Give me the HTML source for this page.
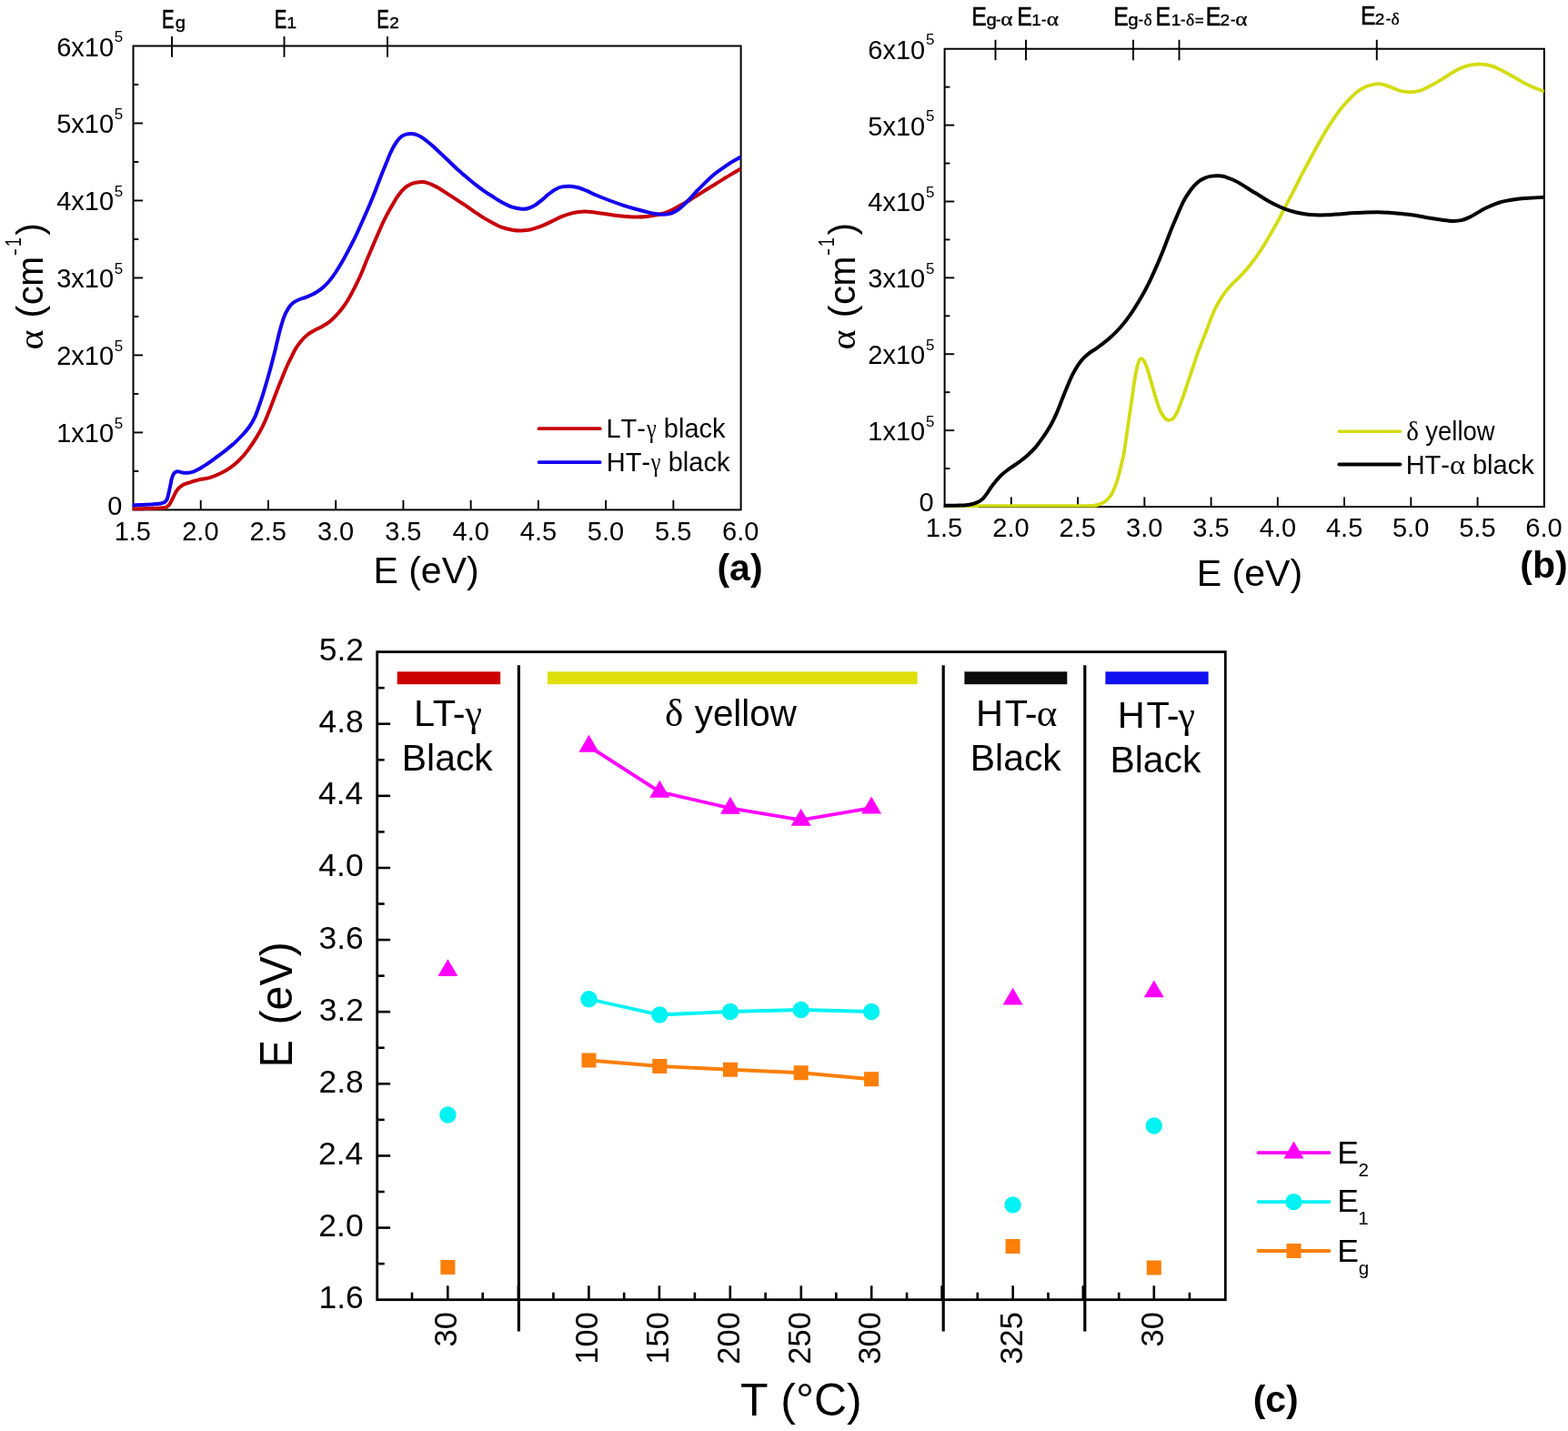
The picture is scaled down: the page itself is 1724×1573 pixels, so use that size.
<!DOCTYPE html>
<html lang="en">
<head>
<meta charset="utf-8">
<title>Absorption coefficient and critical point energies</title>
<style>
html,body{margin:0;padding:0;background:#fff;}
body{width:1724px;height:1573px;overflow:hidden;}
svg{display:block;}
text{fill:#000;white-space:pre;font-kerning:none;}
</style>
</head>
<body>
<svg width="1724" height="1573" viewBox="0 0 1724 1573">
<rect x="0" y="0" width="1724" height="1573" fill="#ffffff"/>
<g id="panel-a">
<rect x="146.5" y="50.5" width="668.1" height="509.9" fill="none" stroke="#000" stroke-width="2.0"/>
<line x1="146.50" y1="517.91" x2="152.30" y2="517.91" stroke="#000" stroke-width="1.9" stroke-linecap="butt"/>
<line x1="146.50" y1="475.42" x2="157.10" y2="475.42" stroke="#000" stroke-width="1.9" stroke-linecap="butt"/>
<line x1="146.50" y1="432.92" x2="152.30" y2="432.92" stroke="#000" stroke-width="1.9" stroke-linecap="butt"/>
<line x1="146.50" y1="390.43" x2="157.10" y2="390.43" stroke="#000" stroke-width="1.9" stroke-linecap="butt"/>
<line x1="146.50" y1="347.94" x2="152.30" y2="347.94" stroke="#000" stroke-width="1.9" stroke-linecap="butt"/>
<line x1="146.50" y1="305.45" x2="157.10" y2="305.45" stroke="#000" stroke-width="1.9" stroke-linecap="butt"/>
<line x1="146.50" y1="262.96" x2="152.30" y2="262.96" stroke="#000" stroke-width="1.9" stroke-linecap="butt"/>
<line x1="146.50" y1="220.47" x2="157.10" y2="220.47" stroke="#000" stroke-width="1.9" stroke-linecap="butt"/>
<line x1="146.50" y1="177.97" x2="152.30" y2="177.97" stroke="#000" stroke-width="1.9" stroke-linecap="butt"/>
<line x1="146.50" y1="135.48" x2="157.10" y2="135.48" stroke="#000" stroke-width="1.9" stroke-linecap="butt"/>
<line x1="146.50" y1="92.99" x2="152.30" y2="92.99" stroke="#000" stroke-width="1.9" stroke-linecap="butt"/>
<line x1="220.73" y1="560.40" x2="220.73" y2="549.80" stroke="#000" stroke-width="1.9" stroke-linecap="butt"/>
<line x1="294.97" y1="560.40" x2="294.97" y2="549.80" stroke="#000" stroke-width="1.9" stroke-linecap="butt"/>
<line x1="369.20" y1="560.40" x2="369.20" y2="549.80" stroke="#000" stroke-width="1.9" stroke-linecap="butt"/>
<line x1="443.43" y1="560.40" x2="443.43" y2="549.80" stroke="#000" stroke-width="1.9" stroke-linecap="butt"/>
<line x1="517.67" y1="560.40" x2="517.67" y2="549.80" stroke="#000" stroke-width="1.9" stroke-linecap="butt"/>
<line x1="591.90" y1="560.40" x2="591.90" y2="549.80" stroke="#000" stroke-width="1.9" stroke-linecap="butt"/>
<line x1="666.13" y1="560.40" x2="666.13" y2="549.80" stroke="#000" stroke-width="1.9" stroke-linecap="butt"/>
<line x1="740.37" y1="560.40" x2="740.37" y2="549.80" stroke="#000" stroke-width="1.9" stroke-linecap="butt"/>
<line x1="189.00" y1="40.00" x2="189.00" y2="62.80" stroke="#000" stroke-width="1.9" stroke-linecap="butt"/>
<line x1="312.50" y1="40.00" x2="312.50" y2="62.80" stroke="#000" stroke-width="1.9" stroke-linecap="butt"/>
<line x1="426.00" y1="40.00" x2="426.00" y2="62.80" stroke="#000" stroke-width="1.9" stroke-linecap="butt"/>
<text transform="translate(134.60,471.02)" x="-8.74" y="0" font-family='"Liberation Sans", sans-serif' font-size="17">5</text>
<text transform="translate(123.90,486.42)" x="-61.75" y="0" font-family='"Liberation Sans", sans-serif' font-size="29">1x10</text>
<text transform="translate(134.60,386.03)" x="-8.74" y="0" font-family='"Liberation Sans", sans-serif' font-size="17">5</text>
<text transform="translate(123.90,401.43)" x="-61.75" y="0" font-family='"Liberation Sans", sans-serif' font-size="29">2x10</text>
<text transform="translate(134.60,301.05)" x="-8.74" y="0" font-family='"Liberation Sans", sans-serif' font-size="17">5</text>
<text transform="translate(123.90,316.45)" x="-61.75" y="0" font-family='"Liberation Sans", sans-serif' font-size="29">3x10</text>
<text transform="translate(134.60,216.07)" x="-8.74" y="0" font-family='"Liberation Sans", sans-serif' font-size="17">5</text>
<text transform="translate(123.90,231.47)" x="-61.75" y="0" font-family='"Liberation Sans", sans-serif' font-size="29">4x10</text>
<text transform="translate(134.60,131.08)" x="-8.74" y="0" font-family='"Liberation Sans", sans-serif' font-size="17">5</text>
<text transform="translate(123.90,146.48)" x="-61.75" y="0" font-family='"Liberation Sans", sans-serif' font-size="29">5x10</text>
<text transform="translate(134.60,46.10)" x="-8.74" y="0" font-family='"Liberation Sans", sans-serif' font-size="17">5</text>
<text transform="translate(123.90,61.50)" x="-61.75" y="0" font-family='"Liberation Sans", sans-serif' font-size="29">6x10</text>
<text transform="translate(133.30,565.60)" x="-15.00" y="0" font-family='"Liberation Sans", sans-serif' font-size="29">0</text>
<text transform="translate(146.30,593.60)" x="-20.65" y="0" font-family='"Liberation Sans", sans-serif' font-size="29">1.5</text>
<text transform="translate(220.53,593.60)" x="-20.32" y="0" font-family='"Liberation Sans", sans-serif' font-size="29">2.0</text>
<text transform="translate(294.77,593.60)" x="-20.28" y="0" font-family='"Liberation Sans", sans-serif' font-size="29">2.5</text>
<text transform="translate(369.00,593.60)" x="-20.14" y="0" font-family='"Liberation Sans", sans-serif' font-size="29">3.0</text>
<text transform="translate(443.23,593.60)" x="-20.10" y="0" font-family='"Liberation Sans", sans-serif' font-size="29">3.5</text>
<text transform="translate(517.47,593.60)" x="-19.92" y="0" font-family='"Liberation Sans", sans-serif' font-size="29">4.0</text>
<text transform="translate(591.70,593.60)" x="-19.88" y="0" font-family='"Liberation Sans", sans-serif' font-size="29">4.5</text>
<text transform="translate(665.93,593.60)" x="-20.17" y="0" font-family='"Liberation Sans", sans-serif' font-size="29">5.0</text>
<text transform="translate(740.17,593.60)" x="-20.13" y="0" font-family='"Liberation Sans", sans-serif' font-size="29">5.5</text>
<text transform="translate(814.40,593.60)" x="-20.33" y="0" font-family='"Liberation Sans", sans-serif' font-size="29">6.0</text>
<clipPath id="clipA"><rect x="145.5" y="50.5" width="669.1" height="512"/></clipPath>
<g clip-path="url(#clipA)">
<path d="M145.6,559.3 C146.8,559.3 150.6,559.2 153.0,559.2 C155.4,559.2 157.8,559.1 160.3,559.0 C162.8,558.9 165.4,558.9 168.0,558.8 C170.6,558.7 173.8,558.6 175.6,558.5 C177.3,558.4 177.7,558.4 178.5,558.3 C179.3,558.2 180.1,558.1 180.7,558.0 C181.3,557.9 181.8,557.8 182.3,557.6 C182.8,557.4 183.2,557.3 183.7,557.0 C184.1,556.7 184.6,556.3 185.0,555.9 C185.4,555.5 185.9,554.9 186.3,554.4 C186.7,553.9 187.0,553.4 187.3,552.8 C187.6,552.2 188.0,551.5 188.3,550.9 C188.6,550.2 189.0,549.6 189.3,548.9 C189.7,548.2 190.1,547.5 190.4,546.8 C190.8,546.1 191.1,545.4 191.4,544.7 C191.7,544.0 192.1,543.3 192.4,542.7 C192.7,542.1 193.1,541.5 193.4,540.9 C193.7,540.3 194.0,539.8 194.4,539.2 C194.8,538.6 195.3,538.0 195.7,537.5 C196.1,537.0 196.5,536.5 197.0,536.1 C197.5,535.7 198.0,535.3 198.5,534.9 C199.0,534.5 199.4,534.1 200.0,533.8 C200.6,533.4 201.2,533.1 201.8,532.8 C202.4,532.5 202.9,532.3 203.6,532.0 C204.3,531.7 205.2,531.4 206.0,531.1 C206.8,530.8 207.8,530.6 208.7,530.3 C209.6,530.0 210.3,529.8 211.2,529.5 C212.0,529.2 212.8,529.0 213.8,528.7 C214.8,528.4 216.0,528.1 217.0,527.8 C218.0,527.5 218.7,527.3 220.0,527.0 C221.3,526.7 223.2,526.5 225.0,526.2 C226.8,525.9 227.6,526.2 230.5,525.2 C233.4,524.2 238.8,522.1 242.6,520.3 C246.4,518.5 249.6,516.7 253.1,514.2 C256.6,511.7 260.4,508.5 263.7,505.2 C267.0,501.9 269.7,498.6 272.7,494.6 C275.7,490.6 279.0,485.6 281.8,481.1 C284.6,476.6 286.8,472.8 289.3,467.5 C291.8,462.2 294.4,455.7 296.9,449.4 C299.4,443.1 302.1,435.6 304.4,429.8 C306.6,424.0 308.4,419.5 310.4,414.7 C312.4,409.9 314.5,404.7 316.2,401.0 C317.9,397.3 318.8,395.6 320.3,392.7 C321.8,389.8 323.2,386.3 325.0,383.4 C326.8,380.5 328.7,377.8 330.8,375.3 C332.9,372.8 335.2,370.3 337.7,368.3 C340.2,366.3 343.1,364.7 345.8,363.1 C348.5,361.6 351.3,360.6 354.0,359.0 C356.7,357.4 359.6,355.7 362.1,353.8 C364.6,351.9 366.7,349.8 369.0,347.4 C371.3,345.0 373.7,342.4 376.0,339.3 C378.3,336.2 380.7,332.8 383.0,328.9 C385.3,325.0 387.6,320.7 389.9,316.1 C392.2,311.5 394.6,306.8 396.9,301.5 C399.2,296.2 401.5,290.0 403.9,284.3 C406.3,278.6 408.9,272.7 411.2,267.3 C413.5,261.9 415.9,256.3 417.8,252.0 C419.7,247.7 421.1,244.6 422.6,241.5 C424.1,238.4 425.4,236.2 426.8,233.5 C428.2,230.8 429.7,228.4 431.3,225.6 C432.9,222.8 434.9,219.2 436.6,216.6 C438.4,214.0 440.1,211.7 441.8,209.8 C443.6,207.9 445.2,206.3 447.1,205.0 C449.0,203.7 450.9,202.6 452.9,201.8 C454.9,201.0 457.1,200.7 459.0,200.4 C460.9,200.1 462.5,200.0 464.4,200.1 C466.3,200.2 468.2,200.6 470.2,201.2 C472.2,201.8 474.2,202.7 476.2,203.6 C478.2,204.5 480.3,205.6 482.3,206.8 C484.3,208.0 486.4,209.3 488.4,210.6 C490.4,211.9 492.3,213.2 494.5,214.6 C496.7,216.0 499.1,217.6 501.5,219.2 C503.9,220.8 506.6,222.5 509.2,224.2 C511.8,225.9 514.3,227.7 516.8,229.4 C519.3,231.1 521.8,232.9 524.4,234.6 C527.0,236.3 529.5,238.0 532.1,239.6 C534.7,241.2 536.8,242.3 540.0,244.0 C543.2,245.7 547.3,248.1 551.2,249.6 C555.1,251.1 559.7,252.1 563.2,252.8 C566.7,253.5 569.3,253.6 572.3,253.6 C575.3,253.6 578.5,253.3 581.3,252.8 C584.1,252.3 586.2,251.6 589.0,250.7 C591.8,249.8 595.1,248.6 598.1,247.3 C601.1,246.0 604.1,244.6 607.1,243.1 C610.1,241.6 613.2,239.9 616.2,238.6 C619.2,237.3 622.2,236.2 625.2,235.3 C628.2,234.4 631.3,233.8 634.3,233.3 C637.3,232.9 640.3,232.6 643.3,232.6 C646.3,232.6 648.9,232.9 652.4,233.3 C655.9,233.7 660.5,234.5 664.5,235.1 C668.5,235.7 672.5,236.3 676.5,236.8 C680.5,237.3 684.6,237.7 688.6,238.0 C692.6,238.3 696.9,238.6 700.7,238.6 C704.5,238.6 707.7,238.5 711.2,238.1 C714.7,237.7 718.5,237.0 721.8,236.3 C725.1,235.6 727.8,235.1 730.8,234.1 C733.8,233.1 736.9,231.8 739.9,230.3 C742.9,228.8 745.9,227.0 748.9,225.3 C751.9,223.6 755.0,222.0 758.0,220.2 C761.0,218.4 764.0,216.4 767.0,214.5 C770.0,212.6 773.1,210.6 776.1,208.7 C779.1,206.8 782.1,205.0 785.1,203.2 C788.1,201.3 791.2,199.4 794.2,197.6 C797.2,195.8 799.8,194.1 803.2,192.1 C806.6,190.1 812.7,186.5 814.6,185.4" fill="none" stroke="#c6000a" stroke-width="4.0" stroke-linejoin="round" stroke-linecap="butt"/>
<path d="M145.6,555.2 C146.8,555.2 150.6,555.1 153.0,555.0 C155.4,554.9 158.1,554.8 160.3,554.7 C162.5,554.6 164.3,554.5 166.0,554.4 C167.7,554.3 169.2,554.1 170.5,554.0 C171.8,553.9 173.0,553.8 174.0,553.7 C175.0,553.6 175.8,553.5 176.6,553.4 C177.4,553.3 178.0,553.1 178.6,552.9 C179.2,552.7 179.7,552.6 180.2,552.4 C180.7,552.2 181.2,551.8 181.6,551.5 C182.0,551.2 182.4,550.8 182.7,550.4 C183.0,550.0 183.2,549.6 183.5,549.0 C183.8,548.4 184.1,547.6 184.3,546.8 C184.6,546.0 184.8,545.0 185.0,544.0 C185.2,543.0 185.6,541.8 185.8,540.7 C186.1,539.6 186.2,538.4 186.5,537.2 C186.8,536.0 187.1,534.8 187.3,533.6 C187.6,532.4 187.8,531.2 188.0,530.0 C188.2,528.8 188.5,527.4 188.8,526.4 C189.1,525.4 189.3,524.5 189.6,523.8 C189.9,523.0 190.1,522.5 190.4,521.9 C190.7,521.3 191.1,520.8 191.4,520.4 C191.7,520.0 192.0,519.6 192.4,519.3 C192.8,519.0 193.2,518.8 193.6,518.6 C194.0,518.4 194.5,518.3 194.9,518.3 C195.3,518.3 195.8,518.3 196.2,518.4 C196.6,518.5 197.0,518.5 197.5,518.6 C198.0,518.7 198.6,518.9 199.2,519.1 C199.8,519.3 200.4,519.5 201.0,519.6 C201.6,519.7 202.2,519.8 202.8,519.8 C203.4,519.8 204.0,519.8 204.6,519.8 C205.2,519.8 205.8,519.8 206.4,519.8 C207.0,519.8 207.6,519.7 208.2,519.6 C208.8,519.5 209.5,519.4 210.2,519.2 C210.9,519.0 211.5,518.8 212.2,518.6 C212.9,518.4 213.5,518.1 214.2,517.8 C214.9,517.5 215.6,517.2 216.3,516.8 C217.0,516.4 217.8,516.1 218.6,515.6 C219.4,515.1 219.4,515.2 221.4,514.0 C223.4,512.8 227.5,510.3 230.5,508.2 C233.5,506.1 236.5,503.7 239.5,501.4 C242.5,499.1 245.6,497.0 248.6,494.6 C251.6,492.2 254.6,489.9 257.6,487.1 C260.6,484.3 263.9,481.0 266.7,478.0 C269.5,475.0 271.9,472.3 274.2,469.0 C276.5,465.7 278.5,462.2 280.3,458.4 C282.1,454.6 283.3,450.7 284.8,446.4 C286.3,442.1 287.8,437.6 289.3,432.8 C290.8,428.0 292.3,422.9 293.8,417.7 C295.3,412.5 296.8,407.2 298.3,401.5 C299.8,395.8 301.3,389.7 302.9,383.4 C304.4,377.1 306.1,369.5 307.6,363.7 C309.2,357.9 310.7,352.7 312.2,348.6 C313.7,344.5 315.2,341.8 316.8,339.3 C318.4,336.8 319.6,335.1 321.5,333.5 C323.4,331.9 325.9,330.6 328.4,329.5 C330.9,328.4 333.9,327.7 336.6,326.6 C339.3,325.5 342.0,324.6 344.7,323.1 C347.4,321.7 350.1,320.0 352.8,317.9 C355.5,315.8 358.2,313.4 360.9,310.3 C363.6,307.2 366.3,303.6 369.0,299.5 C371.7,295.4 374.5,290.7 377.2,286.0 C379.9,281.3 382.4,276.4 385.0,271.5 C387.6,266.6 390.2,261.4 392.5,256.5 C394.8,251.6 396.8,246.9 399.0,242.0 C401.2,237.1 403.5,231.9 405.6,227.0 C407.7,222.1 409.8,216.9 411.6,212.5 C413.4,208.1 414.6,204.5 416.2,200.5 C417.8,196.5 419.4,192.2 420.9,188.5 C422.4,184.8 423.8,181.5 425.2,178.0 C426.6,174.5 428.1,170.7 429.5,167.6 C430.9,164.5 432.3,161.9 433.7,159.6 C435.1,157.2 436.5,155.2 437.9,153.5 C439.3,151.8 440.6,150.6 442.0,149.6 C443.4,148.6 444.9,148.0 446.6,147.6 C448.3,147.2 450.2,146.9 452.0,147.0 C453.8,147.1 455.4,147.3 457.3,147.9 C459.2,148.5 461.4,149.6 463.4,150.8 C465.4,152.0 467.5,153.6 469.5,155.2 C471.5,156.8 473.6,158.5 475.6,160.3 C477.6,162.1 479.7,164.1 481.7,166.0 C483.7,167.9 485.8,169.9 487.8,171.8 C489.8,173.7 491.6,175.3 493.9,177.5 C496.2,179.7 498.9,182.3 501.5,184.7 C504.1,187.0 506.6,189.4 509.2,191.6 C511.8,193.8 514.3,195.9 516.8,198.0 C519.3,200.1 521.8,202.2 524.4,204.2 C527.0,206.2 529.5,208.0 532.1,209.8 C534.7,211.6 536.8,213.0 540.0,215.0 C543.2,217.0 547.3,219.9 551.2,222.0 C555.1,224.1 559.4,226.4 563.2,227.7 C567.0,229.0 571.0,229.4 573.8,229.7 C576.6,229.9 577.7,229.8 580.0,229.2 C582.3,228.6 585.0,227.5 587.5,226.0 C590.0,224.5 592.6,222.4 595.1,220.4 C597.6,218.4 600.1,215.9 602.6,213.9 C605.1,211.9 607.7,209.8 610.2,208.4 C612.7,207.0 614.9,206.0 617.7,205.4 C620.5,204.8 623.8,204.6 626.8,204.7 C629.8,204.8 632.8,205.4 635.8,206.2 C638.8,207.0 641.6,208.2 644.9,209.6 C648.2,211.0 651.1,212.7 655.4,214.5 C659.7,216.3 665.5,218.6 670.5,220.5 C675.5,222.4 680.6,224.2 685.6,225.8 C690.6,227.4 695.7,228.9 700.7,230.3 C705.7,231.7 711.7,233.2 715.7,234.1 C719.7,235.0 722.0,235.3 724.8,235.6 C727.6,235.8 730.0,235.8 732.3,235.6 C734.6,235.4 736.4,235.1 738.4,234.4 C740.4,233.7 742.4,232.7 744.4,231.4 C746.4,230.1 748.1,228.6 750.4,226.5 C752.7,224.4 755.2,221.9 758.0,219.0 C760.8,216.1 764.0,212.3 767.0,209.2 C770.0,206.0 773.1,203.0 776.1,200.1 C779.1,197.2 782.1,194.3 785.1,191.8 C788.1,189.3 791.2,187.2 794.2,185.1 C797.2,183.0 799.8,181.1 803.2,179.0 C806.6,176.9 812.7,173.7 814.6,172.6" fill="none" stroke="#1400ee" stroke-width="4.0" stroke-linejoin="round" stroke-linecap="butt"/>
</g>
<line x1="592.50" y1="471.20" x2="659.80" y2="471.20" stroke="#c6000a" stroke-width="3.7" stroke-linecap="round"/>
<line x1="592.50" y1="508.10" x2="659.80" y2="508.10" stroke="#1400ee" stroke-width="3.7" stroke-linecap="round"/>
<text transform="translate(668.80,481.00)" x="-2.38" y="0" font-family='"Liberation Sans", sans-serif' font-size="29">LT-</text>
<text transform="translate(711.00,481.00) scale(0.8366,1)" x="0.04" y="0" font-family='"Liberation Serif", serif' font-size="29">γ</text>
<text transform="translate(731.70,481.00)" x="-1.87" y="0" font-family='"Liberation Sans", sans-serif' font-size="29">black</text>
<text transform="translate(669.10,517.60)" x="-2.38" y="0" font-family='"Liberation Sans", sans-serif' font-size="29">HT-</text>
<text transform="translate(715.80,517.60) scale(0.8366,1)" x="0.04" y="0" font-family='"Liberation Serif", serif' font-size="29">γ</text>
<text transform="translate(736.60,517.60)" x="-1.87" y="0" font-family='"Liberation Sans", sans-serif' font-size="29">black</text>
<text transform="translate(413.80,640.60)" x="-3.36" y="0" font-family='"Liberation Sans", sans-serif' font-size="41">E (eV)</text>
<text transform="translate(790.50,637.80)" x="-2.04" y="0" font-family='"Liberation Sans", sans-serif' font-size="41" font-weight="bold">(a)</text>
<text transform="translate(46.60,383.00) rotate(-90) scale(1.0874,1)" x="-1.47" y="0" font-family='"Liberation Serif", serif' font-size="38.5">α</text>
<text transform="translate(46.60,347.00) rotate(-90)" x="-2.54" y="0" font-family='"Liberation Sans", sans-serif' font-size="41">(</text>
<text transform="translate(46.60,333.40) rotate(-90) scale(1.0239,1)" x="-1.74" y="0" font-family='"Liberation Sans", sans-serif' font-size="41">c</text>
<text transform="translate(46.60,312.20) rotate(-90) scale(0.9607,1)" x="-2.72" y="0" font-family='"Liberation Sans", sans-serif' font-size="41">m</text>
<text transform="translate(23.20,280.20) rotate(-90)" x="-1.07" y="0" font-family='"Liberation Sans", sans-serif' font-size="24">-</text>
<text transform="translate(23.20,266.00) rotate(-90) scale(0.8000,1)" x="-6.71" y="0" font-family='"Liberation Sans", sans-serif' font-size="23">1</text>
<text transform="translate(46.60,258.50) rotate(-90)" x="-0.24" y="0" font-family='"Liberation Sans", sans-serif' font-size="41">)</text>
<text transform="translate(179.70,31.10) scale(0.6800,1)" x="-2.46" y="0" font-family='"Liberation Sans", sans-serif' font-size="30.0" stroke="#000" stroke-width="0.6">E</text>
<text transform="translate(193.50,31.30) scale(1.1000,1)" x="-0.78" y="0" font-family='"Liberation Sans", sans-serif' font-size="18.5" stroke="#000" stroke-width="0.35">g</text>
<text transform="translate(303.30,31.10) scale(0.6800,1)" x="-2.46" y="0" font-family='"Liberation Sans", sans-serif' font-size="30.0" stroke="#000" stroke-width="0.6">E</text>
<text transform="translate(316.60,31.30) scale(1.1500,1)" x="-1.29" y="0" font-family='"Liberation Sans", sans-serif' font-size="17" stroke="#000" stroke-width="0.35">1</text>
<text transform="translate(415.90,31.10) scale(0.6800,1)" x="-2.46" y="0" font-family='"Liberation Sans", sans-serif' font-size="30.0" stroke="#000" stroke-width="0.6">E</text>
<text transform="translate(429.20,31.30) scale(1.1200,1)" x="-0.85" y="0" font-family='"Liberation Sans", sans-serif' font-size="17" stroke="#000" stroke-width="0.35">2</text>
</g>
<g id="panel-b">
<rect x="1038.6" y="53.7" width="659.2" height="503.3" fill="none" stroke="#000" stroke-width="2.0"/>
<line x1="1038.60" y1="515.06" x2="1044.40" y2="515.06" stroke="#000" stroke-width="1.9" stroke-linecap="butt"/>
<line x1="1038.60" y1="473.12" x2="1049.20" y2="473.12" stroke="#000" stroke-width="1.9" stroke-linecap="butt"/>
<line x1="1038.60" y1="431.18" x2="1044.40" y2="431.18" stroke="#000" stroke-width="1.9" stroke-linecap="butt"/>
<line x1="1038.60" y1="389.23" x2="1049.20" y2="389.23" stroke="#000" stroke-width="1.9" stroke-linecap="butt"/>
<line x1="1038.60" y1="347.29" x2="1044.40" y2="347.29" stroke="#000" stroke-width="1.9" stroke-linecap="butt"/>
<line x1="1038.60" y1="305.35" x2="1049.20" y2="305.35" stroke="#000" stroke-width="1.9" stroke-linecap="butt"/>
<line x1="1038.60" y1="263.41" x2="1044.40" y2="263.41" stroke="#000" stroke-width="1.9" stroke-linecap="butt"/>
<line x1="1038.60" y1="221.47" x2="1049.20" y2="221.47" stroke="#000" stroke-width="1.9" stroke-linecap="butt"/>
<line x1="1038.60" y1="179.52" x2="1044.40" y2="179.52" stroke="#000" stroke-width="1.9" stroke-linecap="butt"/>
<line x1="1038.60" y1="137.58" x2="1049.20" y2="137.58" stroke="#000" stroke-width="1.9" stroke-linecap="butt"/>
<line x1="1038.60" y1="95.64" x2="1044.40" y2="95.64" stroke="#000" stroke-width="1.9" stroke-linecap="butt"/>
<line x1="1111.84" y1="557.00" x2="1111.84" y2="546.40" stroke="#000" stroke-width="1.9" stroke-linecap="butt"/>
<line x1="1185.09" y1="557.00" x2="1185.09" y2="546.40" stroke="#000" stroke-width="1.9" stroke-linecap="butt"/>
<line x1="1258.33" y1="557.00" x2="1258.33" y2="546.40" stroke="#000" stroke-width="1.9" stroke-linecap="butt"/>
<line x1="1331.58" y1="557.00" x2="1331.58" y2="546.40" stroke="#000" stroke-width="1.9" stroke-linecap="butt"/>
<line x1="1404.82" y1="557.00" x2="1404.82" y2="546.40" stroke="#000" stroke-width="1.9" stroke-linecap="butt"/>
<line x1="1478.07" y1="557.00" x2="1478.07" y2="546.40" stroke="#000" stroke-width="1.9" stroke-linecap="butt"/>
<line x1="1551.31" y1="557.00" x2="1551.31" y2="546.40" stroke="#000" stroke-width="1.9" stroke-linecap="butt"/>
<line x1="1624.56" y1="557.00" x2="1624.56" y2="546.40" stroke="#000" stroke-width="1.9" stroke-linecap="butt"/>
<line x1="1094.50" y1="43.75" x2="1094.50" y2="66.25" stroke="#000" stroke-width="1.9" stroke-linecap="butt"/>
<line x1="1128.00" y1="43.75" x2="1128.00" y2="66.25" stroke="#000" stroke-width="1.9" stroke-linecap="butt"/>
<line x1="1246.00" y1="43.75" x2="1246.00" y2="66.25" stroke="#000" stroke-width="1.9" stroke-linecap="butt"/>
<line x1="1296.50" y1="43.75" x2="1296.50" y2="66.25" stroke="#000" stroke-width="1.9" stroke-linecap="butt"/>
<line x1="1513.75" y1="43.75" x2="1513.75" y2="66.25" stroke="#000" stroke-width="1.9" stroke-linecap="butt"/>
<text transform="translate(1026.70,468.72)" x="-8.74" y="0" font-family='"Liberation Sans", sans-serif' font-size="17">5</text>
<text transform="translate(1016.00,484.12)" x="-61.75" y="0" font-family='"Liberation Sans", sans-serif' font-size="29">1x10</text>
<text transform="translate(1026.70,384.83)" x="-8.74" y="0" font-family='"Liberation Sans", sans-serif' font-size="17">5</text>
<text transform="translate(1016.00,400.23)" x="-61.75" y="0" font-family='"Liberation Sans", sans-serif' font-size="29">2x10</text>
<text transform="translate(1026.70,300.95)" x="-8.74" y="0" font-family='"Liberation Sans", sans-serif' font-size="17">5</text>
<text transform="translate(1016.00,316.35)" x="-61.75" y="0" font-family='"Liberation Sans", sans-serif' font-size="29">3x10</text>
<text transform="translate(1026.70,217.07)" x="-8.74" y="0" font-family='"Liberation Sans", sans-serif' font-size="17">5</text>
<text transform="translate(1016.00,232.47)" x="-61.75" y="0" font-family='"Liberation Sans", sans-serif' font-size="29">4x10</text>
<text transform="translate(1026.70,133.18)" x="-8.74" y="0" font-family='"Liberation Sans", sans-serif' font-size="17">5</text>
<text transform="translate(1016.00,148.58)" x="-61.75" y="0" font-family='"Liberation Sans", sans-serif' font-size="29">5x10</text>
<text transform="translate(1026.70,49.30)" x="-8.74" y="0" font-family='"Liberation Sans", sans-serif' font-size="17">5</text>
<text transform="translate(1016.00,64.70)" x="-61.75" y="0" font-family='"Liberation Sans", sans-serif' font-size="29">6x10</text>
<text transform="translate(1025.60,562.20)" x="-15.00" y="0" font-family='"Liberation Sans", sans-serif' font-size="29">0</text>
<text transform="translate(1038.40,590.20)" x="-20.65" y="0" font-family='"Liberation Sans", sans-serif' font-size="29">1.5</text>
<text transform="translate(1111.64,590.20)" x="-20.32" y="0" font-family='"Liberation Sans", sans-serif' font-size="29">2.0</text>
<text transform="translate(1184.89,590.20)" x="-20.28" y="0" font-family='"Liberation Sans", sans-serif' font-size="29">2.5</text>
<text transform="translate(1258.13,590.20)" x="-20.14" y="0" font-family='"Liberation Sans", sans-serif' font-size="29">3.0</text>
<text transform="translate(1331.38,590.20)" x="-20.10" y="0" font-family='"Liberation Sans", sans-serif' font-size="29">3.5</text>
<text transform="translate(1404.62,590.20)" x="-19.92" y="0" font-family='"Liberation Sans", sans-serif' font-size="29">4.0</text>
<text transform="translate(1477.87,590.20)" x="-19.88" y="0" font-family='"Liberation Sans", sans-serif' font-size="29">4.5</text>
<text transform="translate(1551.11,590.20)" x="-20.17" y="0" font-family='"Liberation Sans", sans-serif' font-size="29">5.0</text>
<text transform="translate(1624.36,590.20)" x="-20.13" y="0" font-family='"Liberation Sans", sans-serif' font-size="29">5.5</text>
<text transform="translate(1697.60,590.20)" x="-20.33" y="0" font-family='"Liberation Sans", sans-serif' font-size="29">6.0</text>
<clipPath id="clipB"><rect x="1037.6" y="53.7" width="660.2" height="506"/></clipPath>
<g clip-path="url(#clipB)">
<path d="M1038.6,556.2 L1190.0,556.2 C1191.0,556.2 1194.2,556.2 1196.0,556.2 C1197.8,556.2 1199.3,556.1 1200.5,556.0 C1201.7,555.9 1202.2,555.8 1203.0,555.7 C1203.8,555.6 1204.7,555.4 1205.6,555.2 C1206.5,555.0 1207.3,554.9 1208.2,554.6 C1209.1,554.4 1209.9,554.0 1210.7,553.7 C1211.5,553.4 1212.1,553.1 1212.8,552.7 C1213.5,552.3 1214.2,551.9 1214.8,551.4 C1215.4,550.9 1216.0,550.5 1216.6,550.0 C1217.2,549.5 1217.8,548.9 1218.3,548.3 C1218.8,547.7 1219.4,547.1 1219.9,546.4 C1220.4,545.7 1220.9,545.0 1221.4,544.3 C1221.9,543.6 1222.3,542.9 1222.7,542.1 C1223.1,541.3 1223.4,540.9 1223.9,539.7 C1224.4,538.5 1225.2,536.8 1225.9,535.1 C1226.6,533.4 1227.3,531.6 1228.0,529.5 C1228.7,527.4 1229.3,524.9 1230.0,522.4 C1230.7,519.9 1231.4,517.0 1232.1,514.2 C1232.8,511.4 1233.5,507.9 1234.1,505.6 C1234.6,503.3 1234.6,505.0 1235.4,500.3 C1236.2,495.6 1237.8,484.4 1238.8,477.5 C1239.8,470.6 1240.7,464.2 1241.5,459.0 C1242.3,453.8 1242.7,451.0 1243.4,446.3 C1244.1,441.6 1244.8,436.2 1245.6,431.0 C1246.3,425.8 1247.1,419.9 1247.9,415.2 C1248.7,410.5 1249.6,406.0 1250.4,402.8 C1251.2,399.6 1251.9,397.4 1252.6,396.0 C1253.3,394.6 1254.1,394.2 1254.8,394.1 C1255.5,394.0 1256.2,394.7 1257.0,395.6 C1257.8,396.6 1258.5,398.1 1259.3,399.8 C1260.1,401.5 1260.8,403.6 1261.6,405.9 C1262.4,408.2 1263.0,410.4 1263.9,413.5 C1264.8,416.6 1266.0,420.8 1267.0,424.4 C1268.0,427.9 1269.0,431.4 1270.0,434.8 C1271.0,438.2 1272.1,441.9 1273.1,444.8 C1274.1,447.7 1275.1,450.2 1276.1,452.4 C1277.1,454.5 1278.2,456.3 1279.2,457.7 C1280.2,459.1 1281.1,460.1 1282.2,460.8 C1283.3,461.5 1284.4,461.9 1285.6,461.9 C1286.8,461.9 1288.0,461.6 1289.1,460.8 C1290.2,460.0 1291.1,458.6 1292.1,457.0 C1293.1,455.4 1294.2,453.2 1295.2,450.9 C1296.2,448.6 1297.2,445.9 1298.2,443.2 C1299.2,440.5 1300.3,437.7 1301.3,434.8 C1302.3,431.9 1303.3,428.8 1304.3,425.7 C1305.3,422.6 1306.4,419.6 1307.4,416.5 C1308.4,413.4 1309.4,410.4 1310.4,407.4 C1311.4,404.3 1312.5,401.2 1313.5,398.2 C1314.5,395.1 1315.5,392.1 1316.5,389.1 C1317.5,386.1 1318.3,384.3 1319.8,380.4 C1321.3,376.5 1323.7,370.7 1325.7,365.5 C1327.7,360.3 1329.8,354.3 1331.8,349.4 C1333.8,344.4 1335.5,340.1 1337.8,335.8 C1340.1,331.5 1342.9,326.9 1345.4,323.3 C1347.9,319.7 1350.1,317.2 1352.9,314.2 C1355.7,311.2 1359.0,308.3 1362.0,305.2 C1365.0,302.1 1368.0,298.9 1371.0,295.4 C1374.0,291.9 1377.0,288.2 1380.0,284.1 C1383.0,280.0 1386.1,275.3 1389.1,270.5 C1392.1,265.7 1395.1,260.7 1398.1,255.4 C1401.1,250.1 1404.2,244.5 1407.2,238.8 C1410.2,233.2 1413.2,227.3 1416.2,221.5 C1419.2,215.7 1422.7,209.2 1425.3,204.0 C1427.9,198.8 1429.9,194.6 1432.0,190.5 C1434.1,186.4 1435.9,183.3 1438.0,179.5 C1440.1,175.7 1442.0,171.9 1444.4,167.5 C1446.8,163.1 1449.8,157.7 1452.5,153.0 C1455.2,148.3 1457.9,143.6 1460.6,139.3 C1463.3,135.0 1466.0,130.9 1468.7,127.1 C1471.4,123.3 1474.1,119.8 1476.8,116.6 C1479.5,113.4 1482.3,110.4 1485.0,107.7 C1487.7,105.0 1490.4,102.3 1493.1,100.3 C1495.8,98.3 1498.5,96.7 1501.2,95.5 C1503.9,94.3 1506.9,93.5 1509.3,93.0 C1511.7,92.5 1513.4,92.0 1515.8,92.2 C1518.2,92.4 1521.2,93.1 1523.9,93.9 C1526.6,94.7 1529.4,96.1 1532.1,97.1 C1534.8,98.1 1537.5,99.3 1540.2,100.0 C1542.9,100.7 1545.6,101.1 1548.3,101.2 C1551.0,101.3 1553.7,101.2 1556.4,100.7 C1559.1,100.2 1561.9,99.5 1564.6,98.4 C1567.3,97.3 1570.0,95.7 1572.7,94.3 C1575.4,92.9 1578.1,91.4 1580.8,89.8 C1583.5,88.2 1586.2,86.6 1588.9,84.9 C1591.6,83.2 1594.3,81.3 1597.0,79.7 C1599.7,78.1 1602.5,76.4 1605.2,75.2 C1607.9,74.0 1610.6,73.0 1613.3,72.3 C1616.0,71.6 1618.7,71.1 1621.4,70.8 C1624.1,70.5 1626.8,70.4 1629.5,70.6 C1632.2,70.8 1634.9,71.2 1637.6,71.9 C1640.3,72.6 1643.1,73.5 1645.8,74.7 C1648.5,75.9 1650.9,77.3 1653.9,78.9 C1656.9,80.5 1660.3,82.3 1663.6,84.1 C1666.8,85.9 1670.2,88.0 1673.4,89.8 C1676.7,91.6 1679.8,93.2 1683.1,94.7 C1686.3,96.2 1690.5,97.7 1692.9,98.7 C1695.4,99.7 1697.0,100.4 1697.8,100.7" fill="none" stroke="#d2dc10" stroke-width="3.8" stroke-linejoin="round" stroke-linecap="butt"/>
<line x1="1076.00" y1="557.60" x2="1206.00" y2="557.60" stroke="#8a9010" stroke-width="1.1" stroke-linecap="butt"/>
<path d="M1037.6,555.9 C1038.7,555.9 1041.9,555.8 1044.0,555.8 C1046.1,555.8 1048.2,555.7 1050.0,555.7 C1051.8,555.7 1053.3,555.7 1055.0,555.6 C1056.7,555.5 1058.6,555.5 1060.2,555.4 C1061.8,555.3 1063.1,555.1 1064.5,554.9 C1065.9,554.7 1067.3,554.5 1068.6,554.2 C1069.8,553.9 1070.9,553.6 1072.0,553.2 C1073.1,552.8 1074.4,552.3 1075.4,551.8 C1076.4,551.3 1077.0,550.9 1077.8,550.4 C1078.6,549.9 1079.4,549.3 1080.2,548.6 C1081.0,547.9 1081.7,546.9 1082.5,546.0 C1083.3,545.1 1084.0,544.1 1084.8,543.0 C1085.6,541.9 1086.3,540.8 1087.1,539.6 C1087.9,538.4 1088.6,537.1 1089.4,536.0 C1090.2,534.9 1091.0,533.7 1091.8,532.7 C1092.6,531.7 1093.3,530.9 1094.1,530.0 C1094.9,529.1 1095.4,528.3 1096.4,527.2 C1097.4,526.1 1098.8,524.5 1100.0,523.2 C1101.2,522.0 1102.0,521.2 1103.9,519.7 C1105.8,518.2 1108.6,516.2 1111.4,514.2 C1114.2,512.2 1117.5,510.1 1120.5,507.9 C1123.5,505.6 1126.5,503.4 1129.5,500.7 C1132.5,498.0 1135.6,495.1 1138.6,491.6 C1141.6,488.1 1144.8,483.5 1147.6,479.5 C1150.4,475.5 1152.9,471.5 1155.2,467.5 C1157.5,463.5 1159.2,459.9 1161.2,455.4 C1163.2,450.9 1165.3,445.3 1167.3,440.3 C1169.3,435.3 1171.3,430.0 1173.3,425.2 C1175.3,420.4 1177.3,415.7 1179.3,411.7 C1181.3,407.7 1183.4,404.1 1185.4,401.1 C1187.4,398.1 1189.4,395.7 1191.4,393.6 C1193.4,391.5 1195.1,390.0 1197.4,388.3 C1199.7,386.6 1203.0,384.7 1205.0,383.3 C1207.0,381.9 1207.0,381.9 1209.5,380.0 C1212.0,378.1 1216.4,375.0 1220.2,371.6 C1224.0,368.2 1228.4,363.8 1232.2,359.5 C1236.0,355.2 1239.3,350.9 1242.8,345.9 C1246.3,340.9 1250.0,334.8 1253.3,329.3 C1256.6,323.8 1259.4,318.7 1262.4,312.7 C1265.4,306.7 1268.6,299.4 1271.4,293.1 C1274.2,286.8 1276.5,281.3 1279.0,275.0 C1281.5,268.7 1284.0,261.7 1286.5,255.4 C1289.0,249.1 1291.6,243.1 1294.1,237.3 C1296.6,231.5 1299.1,225.5 1301.6,220.7 C1304.1,215.9 1306.7,212.1 1309.2,208.7 C1311.7,205.3 1314.2,202.6 1316.7,200.4 C1319.2,198.2 1321.7,196.9 1324.2,195.8 C1326.7,194.7 1329.3,194.0 1331.8,193.6 C1334.3,193.2 1336.8,193.2 1339.3,193.3 C1341.8,193.4 1344.1,193.6 1346.9,194.3 C1349.7,195.1 1352.9,196.4 1355.9,197.8 C1358.9,199.2 1361.5,200.5 1365.0,202.6 C1368.5,204.7 1373.0,207.7 1377.0,210.2 C1381.0,212.7 1385.1,215.3 1389.1,217.7 C1393.1,220.1 1397.2,222.5 1401.2,224.5 C1405.2,226.5 1409.2,228.3 1413.2,229.8 C1417.2,231.3 1421.5,232.5 1425.3,233.5 C1429.1,234.5 1432.8,235.1 1436.2,235.6 C1439.7,236.1 1442.5,236.2 1446.0,236.3 C1449.5,236.4 1453.6,236.4 1457.4,236.3 C1461.2,236.2 1464.1,235.9 1468.7,235.6 C1473.3,235.3 1479.6,234.7 1485.0,234.3 C1490.4,234.0 1496.1,233.7 1501.2,233.5 C1506.3,233.3 1510.9,233.1 1515.8,233.2 C1520.7,233.3 1525.8,233.6 1530.4,233.9 C1535.0,234.2 1539.1,234.7 1543.4,235.2 C1547.7,235.7 1552.1,236.1 1556.4,236.8 C1560.7,237.5 1565.1,238.4 1569.4,239.2 C1573.7,239.9 1578.6,240.7 1582.4,241.3 C1586.2,241.9 1589.5,242.3 1592.2,242.6 C1594.9,242.9 1596.3,243.1 1598.7,243.0 C1601.1,242.9 1604.1,242.7 1606.8,242.1 C1609.5,241.5 1612.2,240.4 1614.9,239.2 C1617.6,238.0 1620.3,236.3 1623.0,234.8 C1625.7,233.3 1628.4,231.4 1631.1,230.0 C1633.8,228.6 1636.6,227.4 1639.3,226.2 C1642.0,225.0 1644.7,223.9 1647.4,223.0 C1650.1,222.1 1652.2,221.6 1655.5,220.9 C1658.8,220.2 1662.8,219.4 1666.9,218.9 C1671.0,218.4 1674.8,218.2 1679.9,217.8 C1685.1,217.5 1694.8,217.0 1697.8,216.8" fill="none" stroke="#000" stroke-width="4.0" stroke-linejoin="round" stroke-linecap="butt"/>
</g>
<line x1="1472.40" y1="474.20" x2="1539.40" y2="474.20" stroke="#d2dc10" stroke-width="3.6" stroke-linecap="round"/>
<line x1="1472.40" y1="510.40" x2="1539.40" y2="510.40" stroke="#000" stroke-width="4.0" stroke-linecap="round"/>
<text transform="translate(1547.40,483.80)" x="-1.09" y="0" font-family='"Liberation Serif", serif' font-size="29">δ</text>
<text transform="translate(1567.40,483.80) scale(0.9456,1)" x="-0.07" y="0" font-family='"Liberation Sans", sans-serif' font-size="29">yellow</text>
<text transform="translate(1548.00,520.80)" x="-2.38" y="0" font-family='"Liberation Sans", sans-serif' font-size="29">HT-</text>
<text transform="translate(1595.30,520.80) scale(1.1162,1)" x="-1.10" y="0" font-family='"Liberation Serif", serif' font-size="29">α</text>
<text transform="translate(1620.80,520.80)" x="-1.87" y="0" font-family='"Liberation Sans", sans-serif' font-size="29">black</text>
<text transform="translate(1319.20,643.60)" x="-3.36" y="0" font-family='"Liberation Sans", sans-serif' font-size="41">E (eV)</text>
<text transform="translate(1673.30,635.40)" x="-2.04" y="0" font-family='"Liberation Sans", sans-serif' font-size="41" font-weight="bold">(b)</text>
<text transform="translate(939.90,382.80) rotate(-90) scale(1.0874,1)" x="-1.47" y="0" font-family='"Liberation Serif", serif' font-size="38.5">α</text>
<text transform="translate(939.90,346.80) rotate(-90)" x="-2.54" y="0" font-family='"Liberation Sans", sans-serif' font-size="41">(</text>
<text transform="translate(939.90,333.20) rotate(-90) scale(1.0239,1)" x="-1.74" y="0" font-family='"Liberation Sans", sans-serif' font-size="41">c</text>
<text transform="translate(939.90,312.00) rotate(-90) scale(0.9607,1)" x="-2.72" y="0" font-family='"Liberation Sans", sans-serif' font-size="41">m</text>
<text transform="translate(916.50,280.00) rotate(-90)" x="-1.07" y="0" font-family='"Liberation Sans", sans-serif' font-size="24">-</text>
<text transform="translate(916.50,265.80) rotate(-90) scale(0.8000,1)" x="-6.71" y="0" font-family='"Liberation Sans", sans-serif' font-size="23">1</text>
<text transform="translate(939.90,258.30) rotate(-90)" x="-0.24" y="0" font-family='"Liberation Sans", sans-serif' font-size="41">)</text>
<text transform="translate(1070.30,27.80) scale(0.8300,1)" x="-2.46" y="0" font-family='"Liberation Sans", sans-serif' font-size="30.0" stroke="#000" stroke-width="0.6">E</text>
<text transform="translate(1085.30,28.00) scale(1.1000,1)" x="-0.78" y="0" font-family='"Liberation Sans", sans-serif' font-size="18.5" stroke="#000" stroke-width="0.35">g</text>
<text transform="translate(1095.60,28.00) scale(0.9000,1)" x="-0.82" y="0" font-family='"Liberation Sans", sans-serif' font-size="18.5" stroke="#000" stroke-width="0.35">-</text>
<text transform="translate(1101.20,28.00) scale(1.2000,1)" x="-0.80" y="0" font-family='"Liberation Serif", serif' font-size="21" stroke="#000" stroke-width="0.35">α</text>
<text transform="translate(1120.40,27.80) scale(0.8300,1)" x="-2.46" y="0" font-family='"Liberation Sans", sans-serif' font-size="30.0" stroke="#000" stroke-width="0.6">E</text>
<text transform="translate(1135.80,28.00) scale(1.1200,1)" x="-1.29" y="0" font-family='"Liberation Sans", sans-serif' font-size="17" stroke="#000" stroke-width="0.35">1</text>
<text transform="translate(1145.60,28.00) scale(0.9000,1)" x="-0.82" y="0" font-family='"Liberation Sans", sans-serif' font-size="18.5" stroke="#000" stroke-width="0.35">-</text>
<text transform="translate(1151.80,28.00) scale(1.2000,1)" x="-0.80" y="0" font-family='"Liberation Serif", serif' font-size="21" stroke="#000" stroke-width="0.35">α</text>
<text transform="translate(1226.20,27.80) scale(0.8300,1)" x="-2.46" y="0" font-family='"Liberation Sans", sans-serif' font-size="30.0" stroke="#000" stroke-width="0.6">E</text>
<text transform="translate(1241.10,28.00) scale(1.1000,1)" x="-0.78" y="0" font-family='"Liberation Sans", sans-serif' font-size="18.5" stroke="#000" stroke-width="0.35">g</text>
<text transform="translate(1252.20,28.00) scale(0.9000,1)" x="-0.82" y="0" font-family='"Liberation Sans", sans-serif' font-size="18.5" stroke="#000" stroke-width="0.35">-</text>
<text transform="translate(1258.20,28.00)" x="-0.73" y="0" font-family='"Liberation Serif", serif' font-size="19.5" stroke="#000" stroke-width="0.35">δ</text>
<text transform="translate(1272.60,27.80) scale(0.8300,1)" x="-2.46" y="0" font-family='"Liberation Sans", sans-serif' font-size="30.0" stroke="#000" stroke-width="0.6">E</text>
<text transform="translate(1289.20,28.00) scale(1.1200,1)" x="-1.29" y="0" font-family='"Liberation Sans", sans-serif' font-size="17" stroke="#000" stroke-width="0.35">1</text>
<text transform="translate(1298.70,28.00) scale(0.9000,1)" x="-0.82" y="0" font-family='"Liberation Sans", sans-serif' font-size="18.5" stroke="#000" stroke-width="0.35">-</text>
<text transform="translate(1304.60,28.00)" x="-0.73" y="0" font-family='"Liberation Serif", serif' font-size="19.5" stroke="#000" stroke-width="0.35">δ</text>
<text transform="translate(1314.60,28.00)" x="-0.83" y="0" font-family='"Liberation Sans", sans-serif' font-size="17" stroke="#000" stroke-width="0.35">=</text>
<text transform="translate(1327.70,27.80) scale(0.8300,1)" x="-2.46" y="0" font-family='"Liberation Sans", sans-serif' font-size="30.0" stroke="#000" stroke-width="0.6">E</text>
<text transform="translate(1342.50,28.00) scale(1.1200,1)" x="-0.85" y="0" font-family='"Liberation Sans", sans-serif' font-size="17" stroke="#000" stroke-width="0.35">2</text>
<text transform="translate(1353.60,28.00) scale(0.9000,1)" x="-0.82" y="0" font-family='"Liberation Sans", sans-serif' font-size="18.5" stroke="#000" stroke-width="0.35">-</text>
<text transform="translate(1359.20,28.00) scale(1.2000,1)" x="-0.80" y="0" font-family='"Liberation Serif", serif' font-size="21" stroke="#000" stroke-width="0.35">α</text>
<text transform="translate(1498.00,27.20) scale(0.8300,1)" x="-2.46" y="0" font-family='"Liberation Sans", sans-serif' font-size="30.0" stroke="#000" stroke-width="0.6">E</text>
<text transform="translate(1512.70,27.40) scale(1.1200,1)" x="-0.85" y="0" font-family='"Liberation Sans", sans-serif' font-size="17" stroke="#000" stroke-width="0.35">2</text>
<text transform="translate(1524.40,27.40) scale(0.9000,1)" x="-0.82" y="0" font-family='"Liberation Sans", sans-serif' font-size="18.5" stroke="#000" stroke-width="0.35">-</text>
<text transform="translate(1530.10,27.40)" x="-0.73" y="0" font-family='"Liberation Serif", serif' font-size="19.5" stroke="#000" stroke-width="0.35">δ</text>
</g>
<g id="panel-c">
<rect x="436.7" y="738.3" width="113.50" height="13.9" fill="#cc0000"/>
<rect x="602.0" y="738.3" width="406.60" height="13.9" fill="#dfe00a"/>
<rect x="1060.4" y="738.3" width="112.90" height="13.9" fill="#0c0c0c"/>
<rect x="1215.4" y="738.3" width="113.20" height="13.9" fill="#1010f0"/>
<polyline points="647.50,820.40 725.30,870.40 803.00,888.40 880.70,901.40 958.10,888.20" fill="none" stroke="#ff00ff" stroke-width="3.8"/>
<polyline points="647.50,1098.25 725.30,1115.50 803.00,1112.00 880.70,1110.00 958.10,1112.00" fill="none" stroke="#00f2f2" stroke-width="3.8"/>
<polyline points="647.50,1165.50 725.30,1172.00 803.00,1175.75 880.70,1179.25 958.10,1186.25" fill="none" stroke="#fb7f08" stroke-width="3.8"/>
<polygon points="647.50,807.80 658.50,826.70 636.50,826.70" fill="#ff00ff"/>
<polygon points="725.30,857.80 736.30,876.70 714.30,876.70" fill="#ff00ff"/>
<polygon points="803.00,875.80 814.00,894.70 792.00,894.70" fill="#ff00ff"/>
<polygon points="880.70,888.80 891.70,907.70 869.70,907.70" fill="#ff00ff"/>
<polygon points="958.10,875.60 969.10,894.50 947.10,894.50" fill="#ff00ff"/>
<circle cx="647.50" cy="1098.25" r="9.2" fill="#00f2f2"/>
<circle cx="725.30" cy="1115.50" r="9.2" fill="#00f2f2"/>
<circle cx="803.00" cy="1112.00" r="9.2" fill="#00f2f2"/>
<circle cx="880.70" cy="1110.00" r="9.2" fill="#00f2f2"/>
<circle cx="958.10" cy="1112.00" r="9.2" fill="#00f2f2"/>
<rect x="639.50" y="1157.50" width="16" height="16" fill="#fb7f08"/>
<rect x="717.30" y="1164.00" width="16" height="16" fill="#fb7f08"/>
<rect x="795.00" y="1167.75" width="16" height="16" fill="#fb7f08"/>
<rect x="872.70" y="1171.25" width="16" height="16" fill="#fb7f08"/>
<rect x="950.10" y="1178.25" width="16" height="16" fill="#fb7f08"/>
<polygon points="492.40,1054.20 503.40,1073.10 481.40,1073.10" fill="#ff00ff"/>
<circle cx="492.40" cy="1225.50" r="9.2" fill="#00f2f2"/>
<rect x="484.40" y="1385.00" width="16" height="16" fill="#fb7f08"/>
<polygon points="1113.60,1085.70 1124.60,1104.60 1102.60,1104.60" fill="#ff00ff"/>
<circle cx="1113.60" cy="1324.40" r="9.2" fill="#00f2f2"/>
<rect x="1105.60" y="1362.00" width="16" height="16" fill="#fb7f08"/>
<polygon points="1268.80,1077.40 1279.80,1096.30 1257.80,1096.30" fill="#ff00ff"/>
<circle cx="1268.80" cy="1237.50" r="9.2" fill="#00f2f2"/>
<rect x="1260.80" y="1385.50" width="16" height="16" fill="#fb7f08"/>
<rect x="414.7" y="716.6" width="932.60" height="712.10" fill="none" stroke="#000" stroke-width="2.8"/>
<line x1="414.70" y1="756.16" x2="422.70" y2="756.16" stroke="#000" stroke-width="2.6" stroke-linecap="butt"/>
<text transform="translate(398.20,726.10)" x="-47.43" y="0" font-family='"Liberation Sans", sans-serif' font-size="35.4">5.2</text>
<line x1="414.70" y1="795.72" x2="429.10" y2="795.72" stroke="#000" stroke-width="2.6" stroke-linecap="butt"/>
<line x1="414.70" y1="835.28" x2="422.70" y2="835.28" stroke="#000" stroke-width="2.6" stroke-linecap="butt"/>
<text transform="translate(398.20,805.22)" x="-47.67" y="0" font-family='"Liberation Sans", sans-serif' font-size="35.4">4.8</text>
<line x1="414.70" y1="874.84" x2="429.10" y2="874.84" stroke="#000" stroke-width="2.6" stroke-linecap="butt"/>
<line x1="414.70" y1="914.41" x2="422.70" y2="914.41" stroke="#000" stroke-width="2.6" stroke-linecap="butt"/>
<text transform="translate(398.20,884.34)" x="-48.17" y="0" font-family='"Liberation Sans", sans-serif' font-size="35.4">4.4</text>
<line x1="414.70" y1="953.97" x2="429.10" y2="953.97" stroke="#000" stroke-width="2.6" stroke-linecap="butt"/>
<line x1="414.70" y1="993.53" x2="422.70" y2="993.53" stroke="#000" stroke-width="2.6" stroke-linecap="butt"/>
<text transform="translate(398.20,963.47)" x="-47.83" y="0" font-family='"Liberation Sans", sans-serif' font-size="35.4">4.0</text>
<line x1="414.70" y1="1033.09" x2="429.10" y2="1033.09" stroke="#000" stroke-width="2.6" stroke-linecap="butt"/>
<line x1="414.70" y1="1072.65" x2="422.70" y2="1072.65" stroke="#000" stroke-width="2.6" stroke-linecap="butt"/>
<text transform="translate(398.20,1042.59)" x="-47.66" y="0" font-family='"Liberation Sans", sans-serif' font-size="35.4">3.6</text>
<line x1="414.70" y1="1112.21" x2="429.10" y2="1112.21" stroke="#000" stroke-width="2.6" stroke-linecap="butt"/>
<line x1="414.70" y1="1151.77" x2="422.70" y2="1151.77" stroke="#000" stroke-width="2.6" stroke-linecap="butt"/>
<text transform="translate(398.20,1121.71)" x="-47.43" y="0" font-family='"Liberation Sans", sans-serif' font-size="35.4">3.2</text>
<line x1="414.70" y1="1191.33" x2="429.10" y2="1191.33" stroke="#000" stroke-width="2.6" stroke-linecap="butt"/>
<line x1="414.70" y1="1230.89" x2="422.70" y2="1230.89" stroke="#000" stroke-width="2.6" stroke-linecap="butt"/>
<text transform="translate(398.20,1200.83)" x="-47.67" y="0" font-family='"Liberation Sans", sans-serif' font-size="35.4">2.8</text>
<line x1="414.70" y1="1270.46" x2="429.10" y2="1270.46" stroke="#000" stroke-width="2.6" stroke-linecap="butt"/>
<line x1="414.70" y1="1310.02" x2="422.70" y2="1310.02" stroke="#000" stroke-width="2.6" stroke-linecap="butt"/>
<text transform="translate(398.20,1279.96)" x="-48.17" y="0" font-family='"Liberation Sans", sans-serif' font-size="35.4">2.4</text>
<line x1="414.70" y1="1349.58" x2="429.10" y2="1349.58" stroke="#000" stroke-width="2.6" stroke-linecap="butt"/>
<line x1="414.70" y1="1389.14" x2="422.70" y2="1389.14" stroke="#000" stroke-width="2.6" stroke-linecap="butt"/>
<text transform="translate(398.20,1359.08)" x="-47.83" y="0" font-family='"Liberation Sans", sans-serif' font-size="35.4">2.0</text>
<text transform="translate(398.20,1438.20)" x="-47.66" y="0" font-family='"Liberation Sans", sans-serif' font-size="35.4">1.6</text>
<line x1="453.00" y1="1428.70" x2="453.00" y2="1420.70" stroke="#000" stroke-width="2.6" stroke-linecap="butt"/>
<line x1="530.72" y1="1428.70" x2="530.72" y2="1420.70" stroke="#000" stroke-width="2.6" stroke-linecap="butt"/>
<line x1="608.44" y1="1428.70" x2="608.44" y2="1420.70" stroke="#000" stroke-width="2.6" stroke-linecap="butt"/>
<line x1="686.16" y1="1428.70" x2="686.16" y2="1420.70" stroke="#000" stroke-width="2.6" stroke-linecap="butt"/>
<line x1="763.88" y1="1428.70" x2="763.88" y2="1420.70" stroke="#000" stroke-width="2.6" stroke-linecap="butt"/>
<line x1="841.60" y1="1428.70" x2="841.60" y2="1420.70" stroke="#000" stroke-width="2.6" stroke-linecap="butt"/>
<line x1="919.32" y1="1428.70" x2="919.32" y2="1420.70" stroke="#000" stroke-width="2.6" stroke-linecap="butt"/>
<line x1="997.04" y1="1428.70" x2="997.04" y2="1420.70" stroke="#000" stroke-width="2.6" stroke-linecap="butt"/>
<line x1="1074.76" y1="1428.70" x2="1074.76" y2="1420.70" stroke="#000" stroke-width="2.6" stroke-linecap="butt"/>
<line x1="1152.48" y1="1428.70" x2="1152.48" y2="1420.70" stroke="#000" stroke-width="2.6" stroke-linecap="butt"/>
<line x1="1230.20" y1="1428.70" x2="1230.20" y2="1420.70" stroke="#000" stroke-width="2.6" stroke-linecap="butt"/>
<line x1="1307.92" y1="1428.70" x2="1307.92" y2="1420.70" stroke="#000" stroke-width="2.6" stroke-linecap="butt"/>
<line x1="492.30" y1="1428.70" x2="492.30" y2="1413.30" stroke="#000" stroke-width="2.6" stroke-linecap="butt"/>
<line x1="647.40" y1="1428.70" x2="647.40" y2="1413.30" stroke="#000" stroke-width="2.6" stroke-linecap="butt"/>
<line x1="724.90" y1="1428.70" x2="724.90" y2="1413.30" stroke="#000" stroke-width="2.6" stroke-linecap="butt"/>
<line x1="802.80" y1="1428.70" x2="802.80" y2="1413.30" stroke="#000" stroke-width="2.6" stroke-linecap="butt"/>
<line x1="880.80" y1="1428.70" x2="880.80" y2="1413.30" stroke="#000" stroke-width="2.6" stroke-linecap="butt"/>
<line x1="958.20" y1="1428.70" x2="958.20" y2="1413.30" stroke="#000" stroke-width="2.6" stroke-linecap="butt"/>
<line x1="1113.70" y1="1428.70" x2="1113.70" y2="1413.30" stroke="#000" stroke-width="2.6" stroke-linecap="butt"/>
<line x1="1268.80" y1="1428.70" x2="1268.80" y2="1413.30" stroke="#000" stroke-width="2.6" stroke-linecap="butt"/>
<line x1="570.00" y1="1428.70" x2="570.00" y2="1413.30" stroke="#000" stroke-width="2.6" stroke-linecap="butt"/>
<line x1="1035.60" y1="1428.70" x2="1035.60" y2="1413.30" stroke="#000" stroke-width="2.6" stroke-linecap="butt"/>
<line x1="1190.80" y1="1428.70" x2="1190.80" y2="1413.30" stroke="#000" stroke-width="2.6" stroke-linecap="butt"/>
<line x1="570.40" y1="731.20" x2="570.40" y2="1463.60" stroke="#000" stroke-width="3.2" stroke-linecap="butt"/>
<line x1="1037.20" y1="731.20" x2="1037.20" y2="1463.60" stroke="#000" stroke-width="3.2" stroke-linecap="butt"/>
<line x1="1192.80" y1="731.20" x2="1192.80" y2="1463.60" stroke="#000" stroke-width="3.2" stroke-linecap="butt"/>
<text transform="translate(502.30,1443.50) rotate(-90) scale(0.9750,1)" x="-37.99" y="0" font-family='"Liberation Sans", sans-serif' font-size="35.4">30</text>
<text transform="translate(657.40,1443.50) rotate(-90) scale(0.9750,1)" x="-57.68" y="0" font-family='"Liberation Sans", sans-serif' font-size="35.4">100</text>
<text transform="translate(734.90,1443.50) rotate(-90) scale(0.9750,1)" x="-57.68" y="0" font-family='"Liberation Sans", sans-serif' font-size="35.4">150</text>
<text transform="translate(812.80,1443.50) rotate(-90) scale(0.9750,1)" x="-57.68" y="0" font-family='"Liberation Sans", sans-serif' font-size="35.4">200</text>
<text transform="translate(890.80,1443.50) rotate(-90) scale(0.9750,1)" x="-57.68" y="0" font-family='"Liberation Sans", sans-serif' font-size="35.4">250</text>
<text transform="translate(968.20,1443.50) rotate(-90) scale(0.9750,1)" x="-57.68" y="0" font-family='"Liberation Sans", sans-serif' font-size="35.4">300</text>
<text transform="translate(1123.70,1443.50) rotate(-90) scale(0.9750,1)" x="-57.58" y="0" font-family='"Liberation Sans", sans-serif' font-size="35.4">325</text>
<text transform="translate(1278.80,1443.50) rotate(-90) scale(0.9750,1)" x="-37.99" y="0" font-family='"Liberation Sans", sans-serif' font-size="35.4">30</text>
<text transform="translate(458.40,798.40)" x="-3.40" y="0" font-family='"Liberation Sans", sans-serif' font-size="41.5">L</text>
<text transform="translate(476.60,798.40)" x="-0.93" y="0" font-family='"Liberation Sans", sans-serif' font-size="41.5">T</text>
<text transform="translate(499.60,798.40)" x="-1.84" y="0" font-family='"Liberation Sans", sans-serif' font-size="41.5">-</text>
<text transform="translate(511.40,798.40) scale(1.0088,1)" x="0.06" y="0" font-family='"Liberation Serif", serif' font-size="41.5">γ</text>
<text transform="translate(445.20,846.80) scale(0.9843,1)" x="-3.40" y="0" font-family='"Liberation Sans", sans-serif' font-size="41.5">Black</text>
<text transform="translate(1076.30,798.00)" x="-3.40" y="0" font-family='"Liberation Sans", sans-serif' font-size="41.5">H</text>
<text transform="translate(1105.60,798.00)" x="-0.93" y="0" font-family='"Liberation Sans", sans-serif' font-size="41.5">T</text>
<text transform="translate(1128.70,798.00)" x="-1.84" y="0" font-family='"Liberation Sans", sans-serif' font-size="41.5">-</text>
<text transform="translate(1141.40,798.00) scale(1.0400,1)" x="-1.58" y="0" font-family='"Liberation Serif", serif' font-size="41.5">α</text>
<text transform="translate(1070.20,847.40) scale(0.9843,1)" x="-3.40" y="0" font-family='"Liberation Sans", sans-serif' font-size="41.5">Black</text>
<text transform="translate(1232.20,800.20)" x="-3.40" y="0" font-family='"Liberation Sans", sans-serif' font-size="41.5">H</text>
<text transform="translate(1261.50,800.20)" x="-0.93" y="0" font-family='"Liberation Sans", sans-serif' font-size="41.5">T</text>
<text transform="translate(1284.60,800.20)" x="-1.84" y="0" font-family='"Liberation Sans", sans-serif' font-size="41.5">-</text>
<text transform="translate(1295.40,800.20) scale(1.0088,1)" x="0.06" y="0" font-family='"Liberation Serif", serif' font-size="41.5">γ</text>
<text transform="translate(1223.90,849.20) scale(0.9843,1)" x="-3.40" y="0" font-family='"Liberation Sans", sans-serif' font-size="41.5">Black</text>
<text transform="translate(732.60,798.40) scale(1.0345,1)" x="-1.56" y="0" font-family='"Liberation Serif", serif' font-size="41.5">δ</text>
<text transform="translate(763.90,798.40) scale(0.9712,1)" x="-0.10" y="0" font-family='"Liberation Sans", sans-serif' font-size="41.5">yellow</text>
<text transform="translate(815.00,1555.60)" x="-1.12" y="0" font-family='"Liberation Sans", sans-serif' font-size="50">T (°C)</text>
<text transform="translate(320.50,1169.60) rotate(-90) scale(0.8915,1)" x="-4.14" y="0" font-family='"Liberation Sans", sans-serif' font-size="50.5">E</text>
<text transform="translate(320.50,1123.60) rotate(-90) scale(0.9580,1)" x="-3.13" y="0" font-family='"Liberation Sans", sans-serif' font-size="50.5">(eV)</text>
<text transform="translate(1379.70,1552.00)" x="-2.04" y="0" font-family='"Liberation Sans", sans-serif' font-size="41" font-weight="bold">(c)</text>
<line x1="1383.50" y1="1267.10" x2="1461.50" y2="1267.10" stroke="#ff00ff" stroke-width="3.8" stroke-linecap="round"/>
<polygon points="1422.50,1254.50 1433.50,1273.40 1411.50,1273.40" fill="#ff00ff"/>
<text transform="translate(1473.10,1278.50)" x="-2.91" y="0" font-family='"Liberation Sans", sans-serif' font-size="35.5">E</text>
<text transform="translate(1499.20,1292.50)" x="-5.70" y="0" font-family='"Liberation Sans", sans-serif' font-size="20.5">2</text>
<line x1="1383.50" y1="1321.10" x2="1461.50" y2="1321.10" stroke="#00f2f2" stroke-width="3.8" stroke-linecap="round"/>
<circle cx="1422.40" cy="1321.10" r="9.2" fill="#00f2f2"/>
<text transform="translate(1473.10,1332.20)" x="-2.91" y="0" font-family='"Liberation Sans", sans-serif' font-size="35.5">E</text>
<text transform="translate(1499.20,1346.20)" x="-5.98" y="0" font-family='"Liberation Sans", sans-serif' font-size="20.5">1</text>
<line x1="1383.50" y1="1375.00" x2="1461.50" y2="1375.00" stroke="#fb7f08" stroke-width="3.8" stroke-linecap="round"/>
<rect x="1414.50" y="1367.00" width="16" height="16" fill="#fb7f08"/>
<text transform="translate(1473.10,1386.50)" x="-2.91" y="0" font-family='"Liberation Sans", sans-serif' font-size="35.5">E</text>
<text transform="translate(1499.20,1400.50)" x="-5.47" y="0" font-family='"Liberation Sans", sans-serif' font-size="20.5">g</text>
</g>
</svg>
</body>
</html>
